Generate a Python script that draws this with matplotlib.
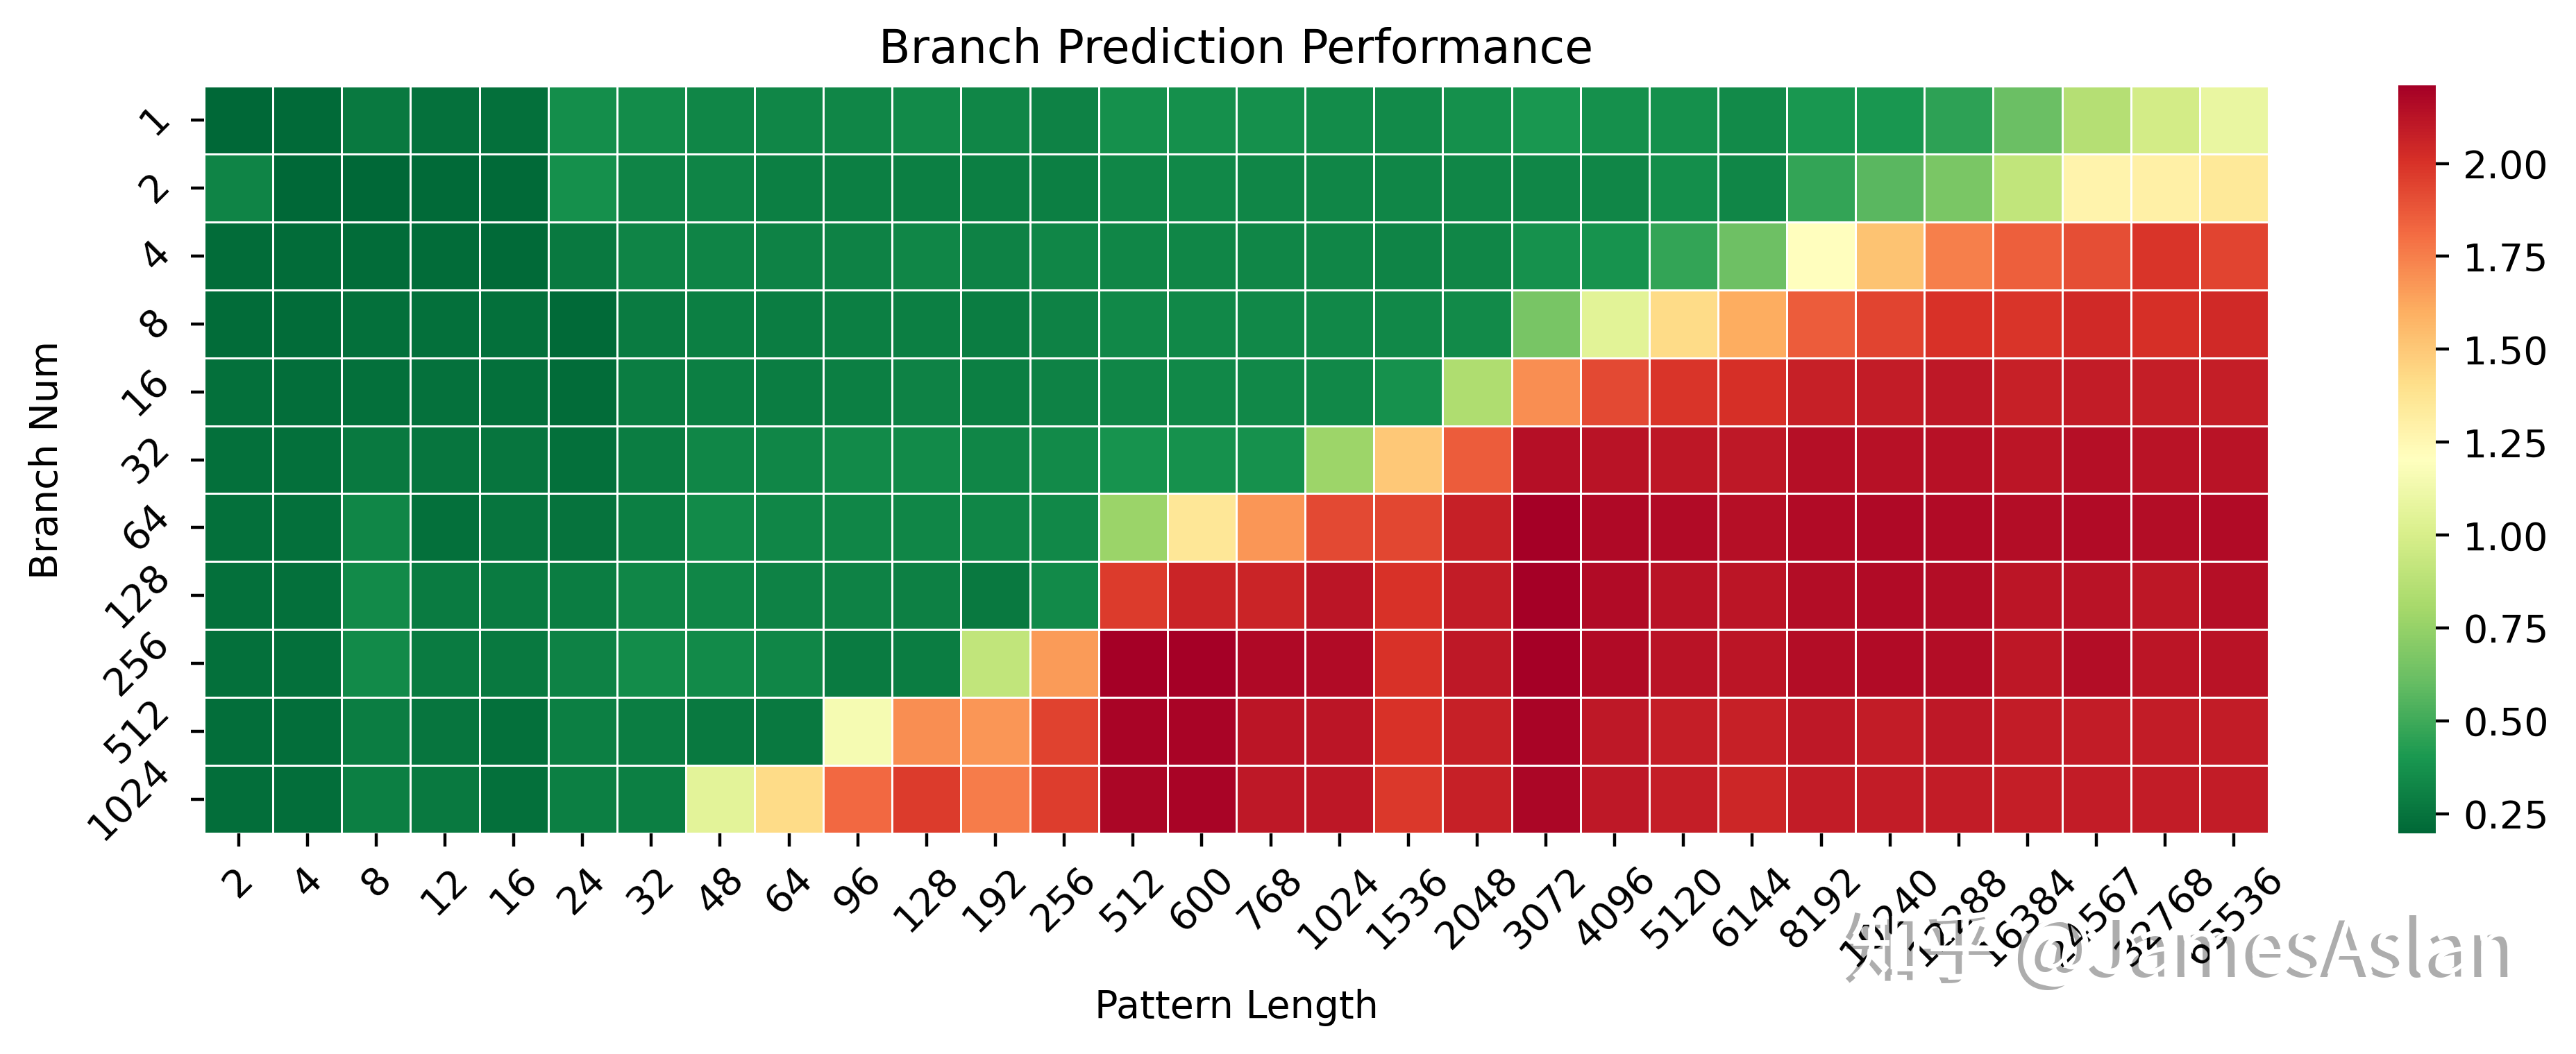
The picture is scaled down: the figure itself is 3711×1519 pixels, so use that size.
"""Branch prediction heatmap: time per branch by branch count and pattern length."""

import matplotlib
matplotlib.use("Agg")
import matplotlib.pyplot as plt
import numpy as np

WIDTH, HEIGHT, DPI = 3712, 1519, 400

pattern_lengths = [2, 4, 8, 12, 16, 24, 32, 48, 64, 96, 128, 192, 256, 512, 600, 768,
                   1024, 1536, 2048, 3072, 4096, 5120, 6144, 8192, 10240, 12288,
                   16384, 24567, 32768, 65536]
branch_nums = [1, 2, 4, 8, 16, 32, 64, 128, 256, 512, 1024]

branch_1 = [.20, .21, .27, .245, .23, .36, .35, .33, .33, .325, .345, .33, .315,
            .37, .37, .37, .355, .345, .37, .40, .37, .37, .345, .40, .40, .45, .62, .86, .98, 1.09]
branch_2 = [.32, .20, .20, .21, .21, .37, .32, .32, .30, .30, .30, .30, .30,
            .33, .335, .33, .33, .325, .33, .33, .33, .36, .325, .47, .57, .667, .91, 1.28, 1.30, 1.35]
branch_4 = [.22, .22, .22, .22, .21, .27, .32, .32, .31, .315, .325, .31, .33,
            .33, .33, .33, .33, .32, .33, .375, .385, .47, .63, 1.21, 1.52, 1.75, 1.85, 1.91, 1.99, 1.94]
branch_8 = [.22, .22, .23, .235, .23, .21, .28, .30, .29, .30, .30, .29, .31,
            .335, .335, .335, .335, .335, .34, .66, 1.05, 1.42, 1.605, 1.86, 1.94, 2.00, 1.99, 2.03, 2.01, 2.03]
branch_16 = [.23, .225, .23, .24, .235, .215, .285, .30, .29, .30, .31, .295, .31,
             .33, .335, .335, .335, .375, .84, 1.70, 1.92, 1.99, 2.01, 2.07, 2.09, 2.10, 2.07, 2.09, 2.08, 2.08]
branch_32 = [.23, .23, .275, .257, .26, .236, .288, .324, .324, .34, .34, .324, .34,
             .38, .375, .375, .773, 1.50, 1.86, 2.14, 2.13, 2.11, 2.10, 2.145, 2.135, 2.135, 2.12, 2.145, 2.13, 2.13]
branch_64 = [.23, .23, .325, .232, .255, .25, .30, .34, .325, .325, .325, .33, .335,
             .77, 1.36, 1.68, 1.92, 1.93, 2.07, 2.21, 2.17, 2.16, 2.14, 2.16, 2.17, 2.155, 2.15, 2.16, 2.15, 2.16]
branch_128 = [.23, .23, .345, .28, .28, .29, .325, .325, .315, .315, .305, .275, .34,
              1.97, 2.06, 2.06, 2.12, 2.00, 2.09, 2.21, 2.16, 2.13, 2.12, 2.15, 2.16, 2.15, 2.12, 2.125, 2.11, 2.14]
branch_256 = [.23, .23, .345, .28, .275, .315, .35, .34, .325, .28, .29, .91, 1.66,
              2.205, 2.205, 2.165, 2.16, 2.00, 2.10, 2.21, 2.16, 2.13, 2.12, 2.15, 2.16, 2.15, 2.11, 2.15, 2.12, 2.13]
branch_512 = [.225, .225, .29, .255, .23, .30, .29, .275, .275, 1.15, 1.70, 1.68, 1.95,
              2.19, 2.19, 2.12, 2.12, 2.00, 2.07, 2.19, 2.10, 2.08, 2.07, 2.10, 2.09, 2.10, 2.09, 2.09, 2.09, 2.09]
branch_1024 = [.225, .225, .30, .275, .23, .30, .30, 1.06, 1.42, 1.82, 1.97, 1.76, 1.96,
               2.18, 2.19, 2.10, 2.11, 1.98, 2.07, 2.18, 2.10, 2.08, 2.05, 2.09, 2.09, 2.09, 2.08, 2.09, 2.09, 2.09]


def px_box(left, top, right, bottom):
    """Axes rectangle in figure fractions from pixel edges."""
    return [left / WIDTH, 1 - bottom / HEIGHT, (right - left) / WIDTH, (bottom - top) / HEIGHT]


values = np.array([branch_1, branch_2, branch_4, branch_8, branch_16, branch_32,
                   branch_64, branch_128, branch_256, branch_512, branch_1024])

fig = plt.figure(figsize=(WIDTH / DPI, HEIGHT / DPI), dpi=DPI)
ax = fig.add_axes(px_box(294, 124, 3268, 1201))
cax = fig.add_axes(px_box(3455, 123, 3509, 1201))

mesh = ax.pcolormesh(values, cmap="RdYlGn_r", vmin=0.198, vmax=2.21,
                     edgecolors="white", linewidth=0.45)
ax.invert_yaxis()
for spine in ax.spines.values():
    spine.set_visible(False)

ax.set_xticks(np.arange(len(pattern_lengths)) + 0.5, labels=pattern_lengths, rotation=45)
ax.set_yticks(np.arange(len(branch_nums)) + 0.5, labels=branch_nums, rotation=45, va="center")
ax.set_xlabel("Pattern Length")
ax.set_ylabel("Branch Num")
ax.set_title("Branch Prediction Performance")

cbar = fig.colorbar(mesh, cax=cax)
cbar.outline.set_visible(False)
cbar.set_ticks([0.25, 0.5, 0.75, 1.0, 1.25, 1.5, 1.75, 2.0])

# watermark: grey shadow under the tick labels, white copy on top of them
mark = "知乎 @JamesAslan"
mark_font = ["Noto Sans CJK SC", "DejaVu Sans"]
fig.text(2655 / WIDTH, 1 - 1408 / HEIGHT, mark, family=mark_font, fontsize=19.9,
         color="#adadad", ha="left", va="baseline", zorder=-1)
fig.text(2665 / WIDTH, 1 - 1403 / HEIGHT, mark, family=mark_font, fontsize=19.9,
         color="white", ha="left", va="baseline", zorder=5)

fig.savefig("out.png", dpi=DPI)
plt.close(fig)
